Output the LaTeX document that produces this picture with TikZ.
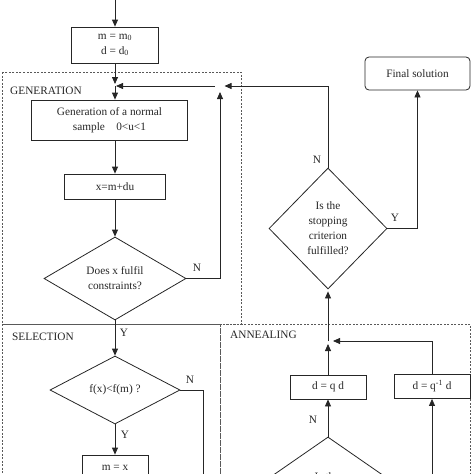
\documentclass[tikz,border=0pt]{standalone}
\usepackage{fontspec}
\setmainfont{Liberation Serif}
\usetikzlibrary{arrows.meta,shapes.geometric}
\tikzset{
  boite/.style={draw, line width=0.8pt, inner sep=0pt, align=center},
  losange/.style={draw, diamond, line width=0.8pt, inner sep=0pt, align=center},
  fleche/.style={line width=0.8pt, -{Triangle[length=7pt,width=6pt]}},
  trait/.style={line width=0.8pt},
  cadre/.style={line width=0.7pt, dash pattern=on 2pt off 1.5pt, black!65},
  etiq/.style={inner sep=0pt}
}
\begin{document}
\begin{tikzpicture}[x=1pt,y=-1pt,font=\fontsize{11.3}{15}\selectfont,black!85]
\useasboundingbox (0,0) rectangle (474,474);
\clip (0,0) rectangle (474,474);

% Zones en pointilles
\draw[cadre] (2,72) rectangle (241,324);
\draw[cadre] (2,324) rectangle (220,500);
\draw[cadre] (220,324) rectangle (470,500);
\node[etiq, anchor=west] (tgen) at (10,91) {GENERATION};
\node[etiq, anchor=west] (tsel) at (12,337) {SELECTION};
\node[etiq, anchor=west] (tann) at (230,335) {ANNEALING};

% Colonne de gauche
\node[boite, minimum width=87pt, minimum height=36pt] (init) at (115,45) {m = m\textsubscript{0}\\d = d\textsubscript{0}};
\node[boite, minimum width=156pt, minimum height=40pt] (gen) at (109.5,120) {Generation of a normal\\sample\quad 0<u<1};
\node[boite, minimum width=101pt, minimum height=25pt] (xmdu) at (115,186.5) {x=m+du};
\node[losange, aspect=1.7, minimum width=142pt, minimum height=83pt] (fulfil) at (115,278.5) {Does x fulfil\\constraints?};
\node[losange, aspect=1.9, minimum width=130pt, minimum height=68pt] (better) at (115,390) {f(x)<f(m) ?};
\node[boite, minimum width=66pt, minimum height=25pt] (mx) at (115,467.5) {m = x};

% Colonne de droite
\node[boite, rounded corners=4pt, minimum width=105pt, minimum height=33pt] (final) at (417.5,73.5) {Final solution};
\node[losange, minimum width=118pt, minimum height=121pt] (stop) at (328,228.5) {Is the\\stopping\\criterion\\fulfilled?};
\node[boite, minimum width=76pt, minimum height=24pt] (dq) at (328,387) {d = q d};
\node[boite, minimum width=76pt, minimum height=24pt] (dqinv) at (432,386.5) {d = q\textsuperscript{-1} d};
\node[losange, aspect=1.45, minimum width=150pt, minimum height=104pt] (dec) at (328,489) {};
\node[etiq, anchor=base] (tdec) at (327,480) {Is the};

% Points de jonction
\coordinate (start) at (115,-2);
\coordinate (j0) at (115,86);
\coordinate (j1) at (220,86);
\coordinate (j2) at (328,341);
\coordinate (bas) at (203,500);
\coordinate (bas2) at (432,500);

% Liaisons
\draw[fleche] (start) -- (init);
\draw[fleche, shorten >=2pt] (init) -- (j0);
\draw[fleche] (j0) -- (j0 |- gen.north);
\draw[fleche] (gen.south -| xmdu.north) -- (xmdu);
\draw[fleche] (xmdu) -- (fulfil);
\draw[fleche, shorten >=6pt] (fulfil.east) -| (j1);
\draw[fleche, shorten <=5pt, shorten >=1pt] (j1) -- (j0);
\draw[fleche, shorten >=4.5pt] (stop.north) |- (j1);
\draw[fleche] (fulfil) -- (better);
\draw[trait] (better.east) -| (bas);
\draw[fleche] (better) -- (mx);
\draw[fleche] (stop.east) -| (final.south);
\draw[fleche, shorten >=2pt] (j2) -- (stop.south);
\draw[fleche, shorten >=3pt] (dq) -- (j2);
\draw[fleche, shorten >=5pt] (dqinv.north) |- (j2);
\draw[fleche] (dec) -- (dq);
\draw[fleche] (bas2) -- (dqinv);

% Reponses
\node[etiq] (nfulfil) at (197,268) {N};
\node[etiq] (yfulfil) at (124,333) {Y};
\node[etiq] (nbetter) at (190,380) {N};
\node[etiq] (ybetter) at (125,435) {Y};
\node[etiq] (nstop) at (317,160) {N};
\node[etiq] (ystop) at (395,218) {Y};
\node[etiq] (ndec) at (313,420) {N};

\end{tikzpicture}
\end{document}
